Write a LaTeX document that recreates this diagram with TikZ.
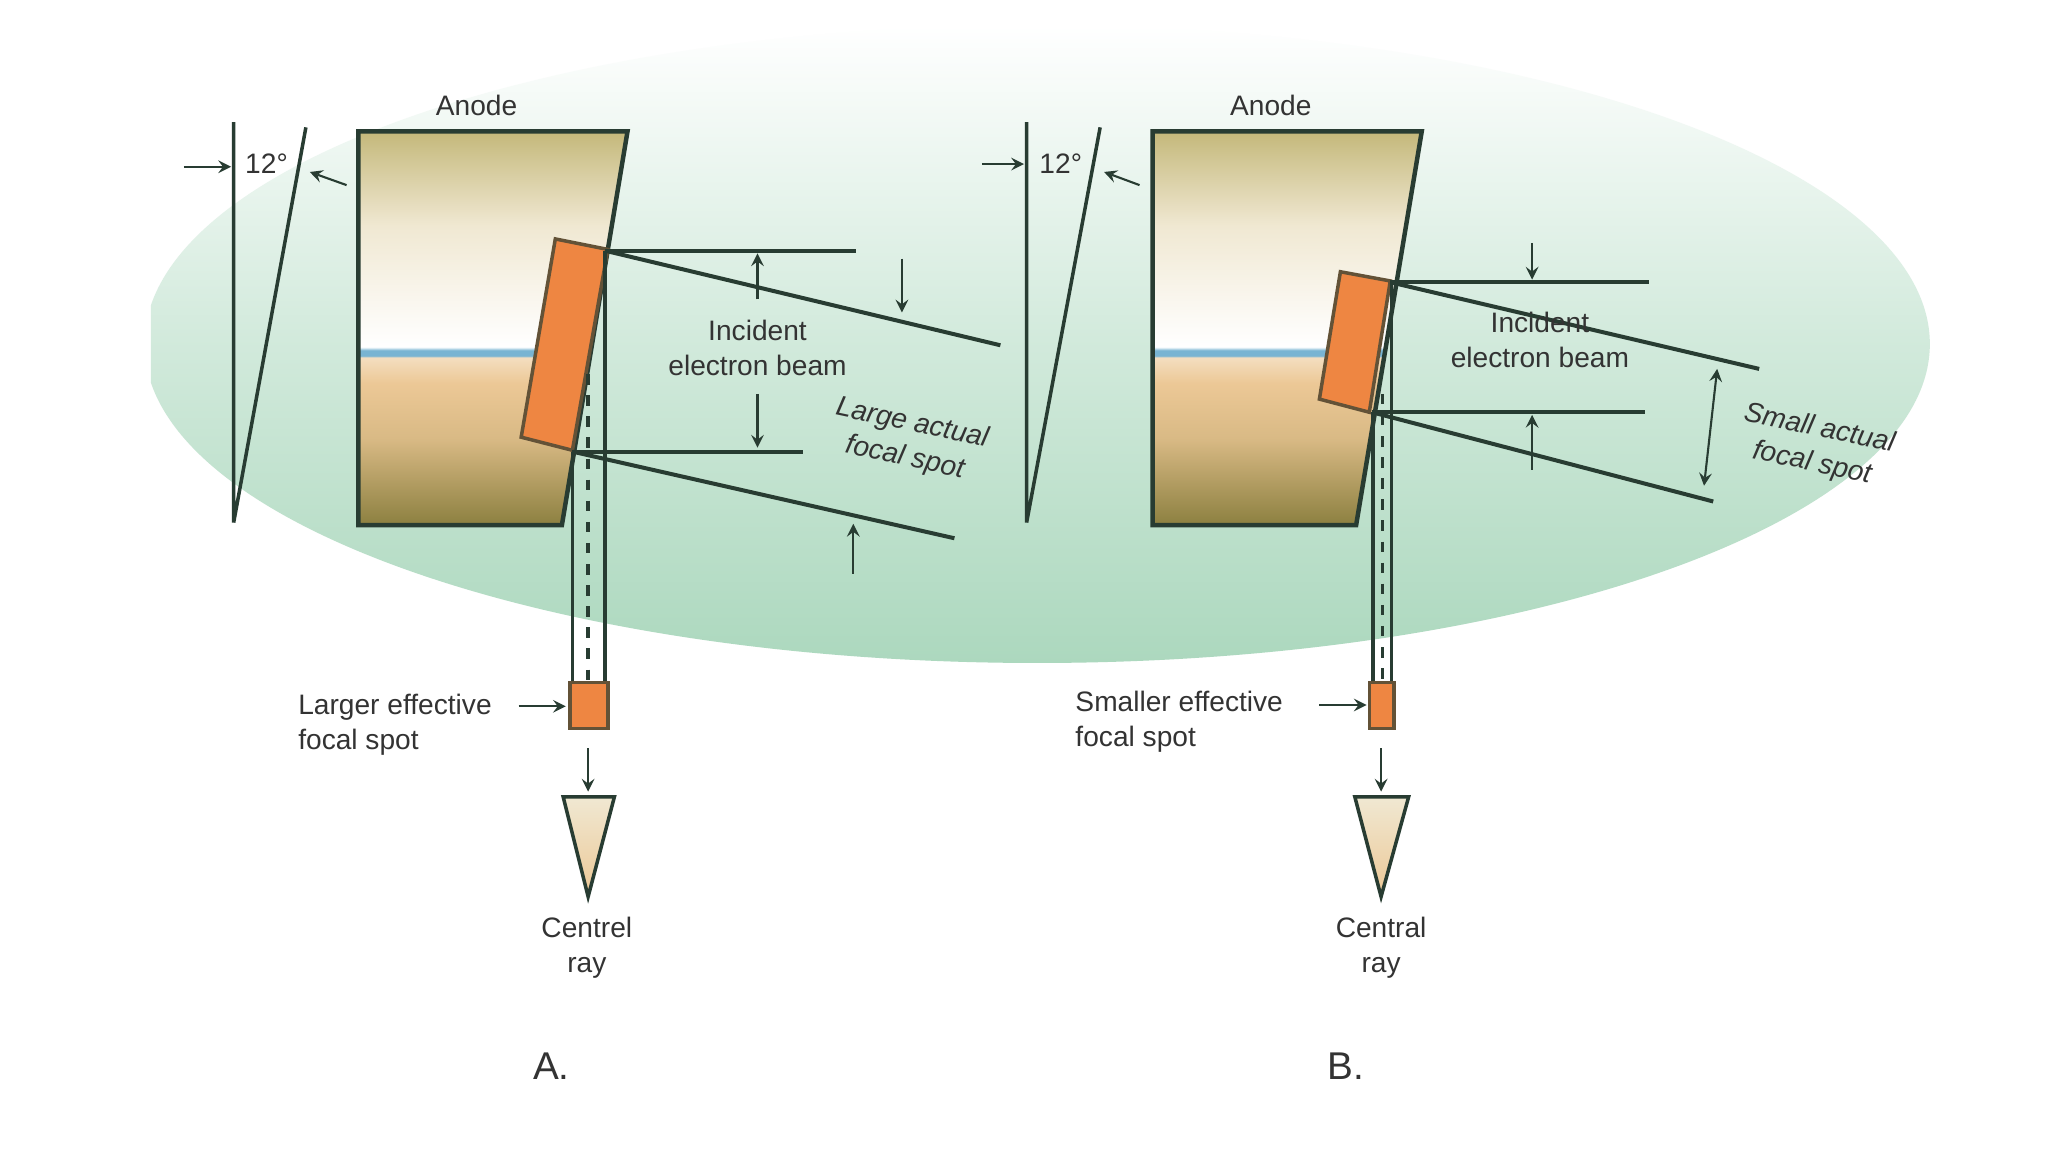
\documentclass[tikz,border=0pt]{standalone}
\usepackage{fontspec}
\setmainfont{Liberation Sans}
\usetikzlibrary{arrows}
\definecolor{olivetop}{RGB}{196,184,122}
\definecolor{olivebot}{RGB}{140,128,64}
\definecolor{creamc}{RGB}{240,232,210}
\definecolor{peachc}{RGB}{236,200,150}
\definecolor{bluec}{RGB}{120,180,210}
\definecolor{targetc}{RGB}{238,134,66}
\definecolor{greenc}{RGB}{172,216,190}
\definecolor{linec}{RGB}{40,60,50}
\pgfdeclareverticalshading{anodeshade}{100bp}{color(0bp)=(olivebot); color(25bp)=(olivebot);
  color(36bp)=(peachc!80!olivebot); color(43bp)=(peachc); color(46.3bp)=(peachc!60!white); color(46.5bp)=(bluec); color(47.2bp)=(bluec);
  color(47.6bp)=(white); color(54bp)=(white!60!creamc); color(63bp)=(creamc); color(75bp)=(olivetop); color(100bp)=(olivetop)}
\pgfdeclareverticalshading{coneshade}{100bp}{color(0bp)=(peachc); color(25bp)=(peachc);
  color(75bp)=(creamc); color(100bp)=(creamc)}
\tikzstyle{anode} = [draw=linec, line width=0.45mm, shading=anodeshade]
\tikzstyle{target} = [draw=linec!70!targetc, line width=0.35mm, fill=targetc]
\tikzstyle{beam} = [draw=linec, line width=0.4mm]
\tikzstyle{arrow} = [draw=linec, semithick, ->, >=stealth]
\tikzstyle{label} = [font=\fontsize{8}{10}\selectfont, text=black!80, align=center, inner sep=1pt]
\begin{document}
\begin{tikzpicture}[x=0.01313cm, y=-0.01313cm]
        \useasboundingbox (0,0) rectangle (1560,877);
        \fill[white] (0,0) rectangle (1560,877);
        
        % background
        \begin{scope}
        \clip (115,0) rectangle (1560,877);
        \shade[top color=white, bottom color=greenc, middle color=greenc!55] (790,262) ellipse [x radius=680, y radius=243];
        \end{scope}
        
        % panel A
        \node (AnodeA) [label] at (363,80) {Anode};
        \shade[anode] (273,100) -- (478,100) -- (428,400) -- (273,400) -- cycle;
        \draw[target] (423,182) -- (463,190) -- (436,343) -- (397,333) -- cycle;
        \coordinate (ATop) at (461,191);
        \coordinate (ABot) at (436,344);
        \draw[beam] (ATop) -- (652,191);
        \draw[beam] (ABot) -- (612,344);
        \draw[beam] (ATop) -- (762,263);
        \draw[beam] (ABot) -- (727,410);
        \draw[arrow] (577,228) -- (577,193);
        \draw[arrow] (577,300) -- (577,341);
        \draw[arrow] (687,197) -- (687,238);
        \draw[arrow] (650,437) -- (650,399);
        \node (BeamA) [label] at (577,265) {Incident\\electron beam};
        \node (SpotA) [label, font=\itshape\fontsize{8}{10}\selectfont, rotate=-12] at (692,336) {Large actual\\focal spot};
        \draw[linec, line width=0.35mm] (178,93) -- (178,398) -- (233,97);
        \draw[arrow] (140,127) -- (176,127);
        \draw[arrow] (264,141) -- (236,131);
        \node (AngA) [label] at (203,125) {12°};
        \draw[linec, line width=0.35mm] (436,344) -- (436,520);
        \draw[linec, line width=0.35mm] (461,191) -- (461,520);
        \draw[linec, dashed, line width=0.35mm] (448,285) -- (448,520);
        \draw[target] (434,520) rectangle (463,555);
        \node (EffA) [label, anchor=west, align=left] at (224,552) {Larger effective\\focal spot};
        \draw[arrow] (395,538) -- (431,538);
        \draw[arrow] (448,570) -- (448,603);
        \shade[draw=linec, line width=0.35mm, shading=coneshade] (429,607) -- (468,607) -- (448,683) -- cycle;
        \node (RayA) [label] at (447,722) {Centrel\\ray};
        \node (TagA) [label, font=\fontsize{11}{13}\selectfont] at (420,812) {A.};
        
        % panel B
        \node (AnodeB) [label] at (968,80) {Anode};
        \shade[anode] (878,100) -- (1083,100) -- (1033,400) -- (878,400) -- cycle;
        \draw[target] (1021,207) -- (1059,214) -- (1043,314) -- (1005,304) -- cycle;
        \coordinate (BTop) at (1059,215);
        \coordinate (BBot) at (1045,314);
        \draw[beam] (BTop) -- (1256,215);
        \draw[beam] (BBot) -- (1253,314);
        \draw[beam] (BTop) -- (1340,281);
        \draw[beam] (BBot) -- (1305,382);
        \draw[arrow] (1167,185) -- (1167,213);
        \draw[arrow] (1167,358) -- (1167,316);
        \draw[arrow, <->] (1308,281) -- (1298,370);
        \node (BeamB) [label] at (1173,259) {Incident\\electron beam};
        \node (SpotB) [label, font=\itshape\fontsize{8}{10}\selectfont, rotate=-12] at (1383,340) {Small actual\\focal spot};
        \draw[linec, line width=0.35mm] (782,93) -- (782,398) -- (838,97);
        \draw[arrow] (748,125) -- (780,125);
        \draw[arrow] (868,141) -- (841,131);
        \node (AngB) [label] at (808,125) {12°};
        \draw[linec, line width=0.35mm] (1046,314) -- (1046,520);
        \draw[linec, line width=0.35mm] (1060,215) -- (1060,520);
        \draw[linec, dashed, line width=0.35mm] (1053,300) -- (1053,520);
        \draw[target] (1043,520) rectangle (1062,555);
        \node (EffB) [label, anchor=west, align=left] at (816,550) {Smaller effective\\focal spot};
        \draw[arrow] (1005,537) -- (1041,537);
        \draw[arrow] (1052,570) -- (1052,603);
        \shade[draw=linec, line width=0.35mm, shading=coneshade] (1032,607) -- (1073,607) -- (1052,683) -- cycle;
        \node (RayB) [label] at (1052,722) {Central\\ray};
        \node (TagB) [label, font=\fontsize{11}{13}\selectfont] at (1025,812) {B.};
\end{tikzpicture}
\end{document}
